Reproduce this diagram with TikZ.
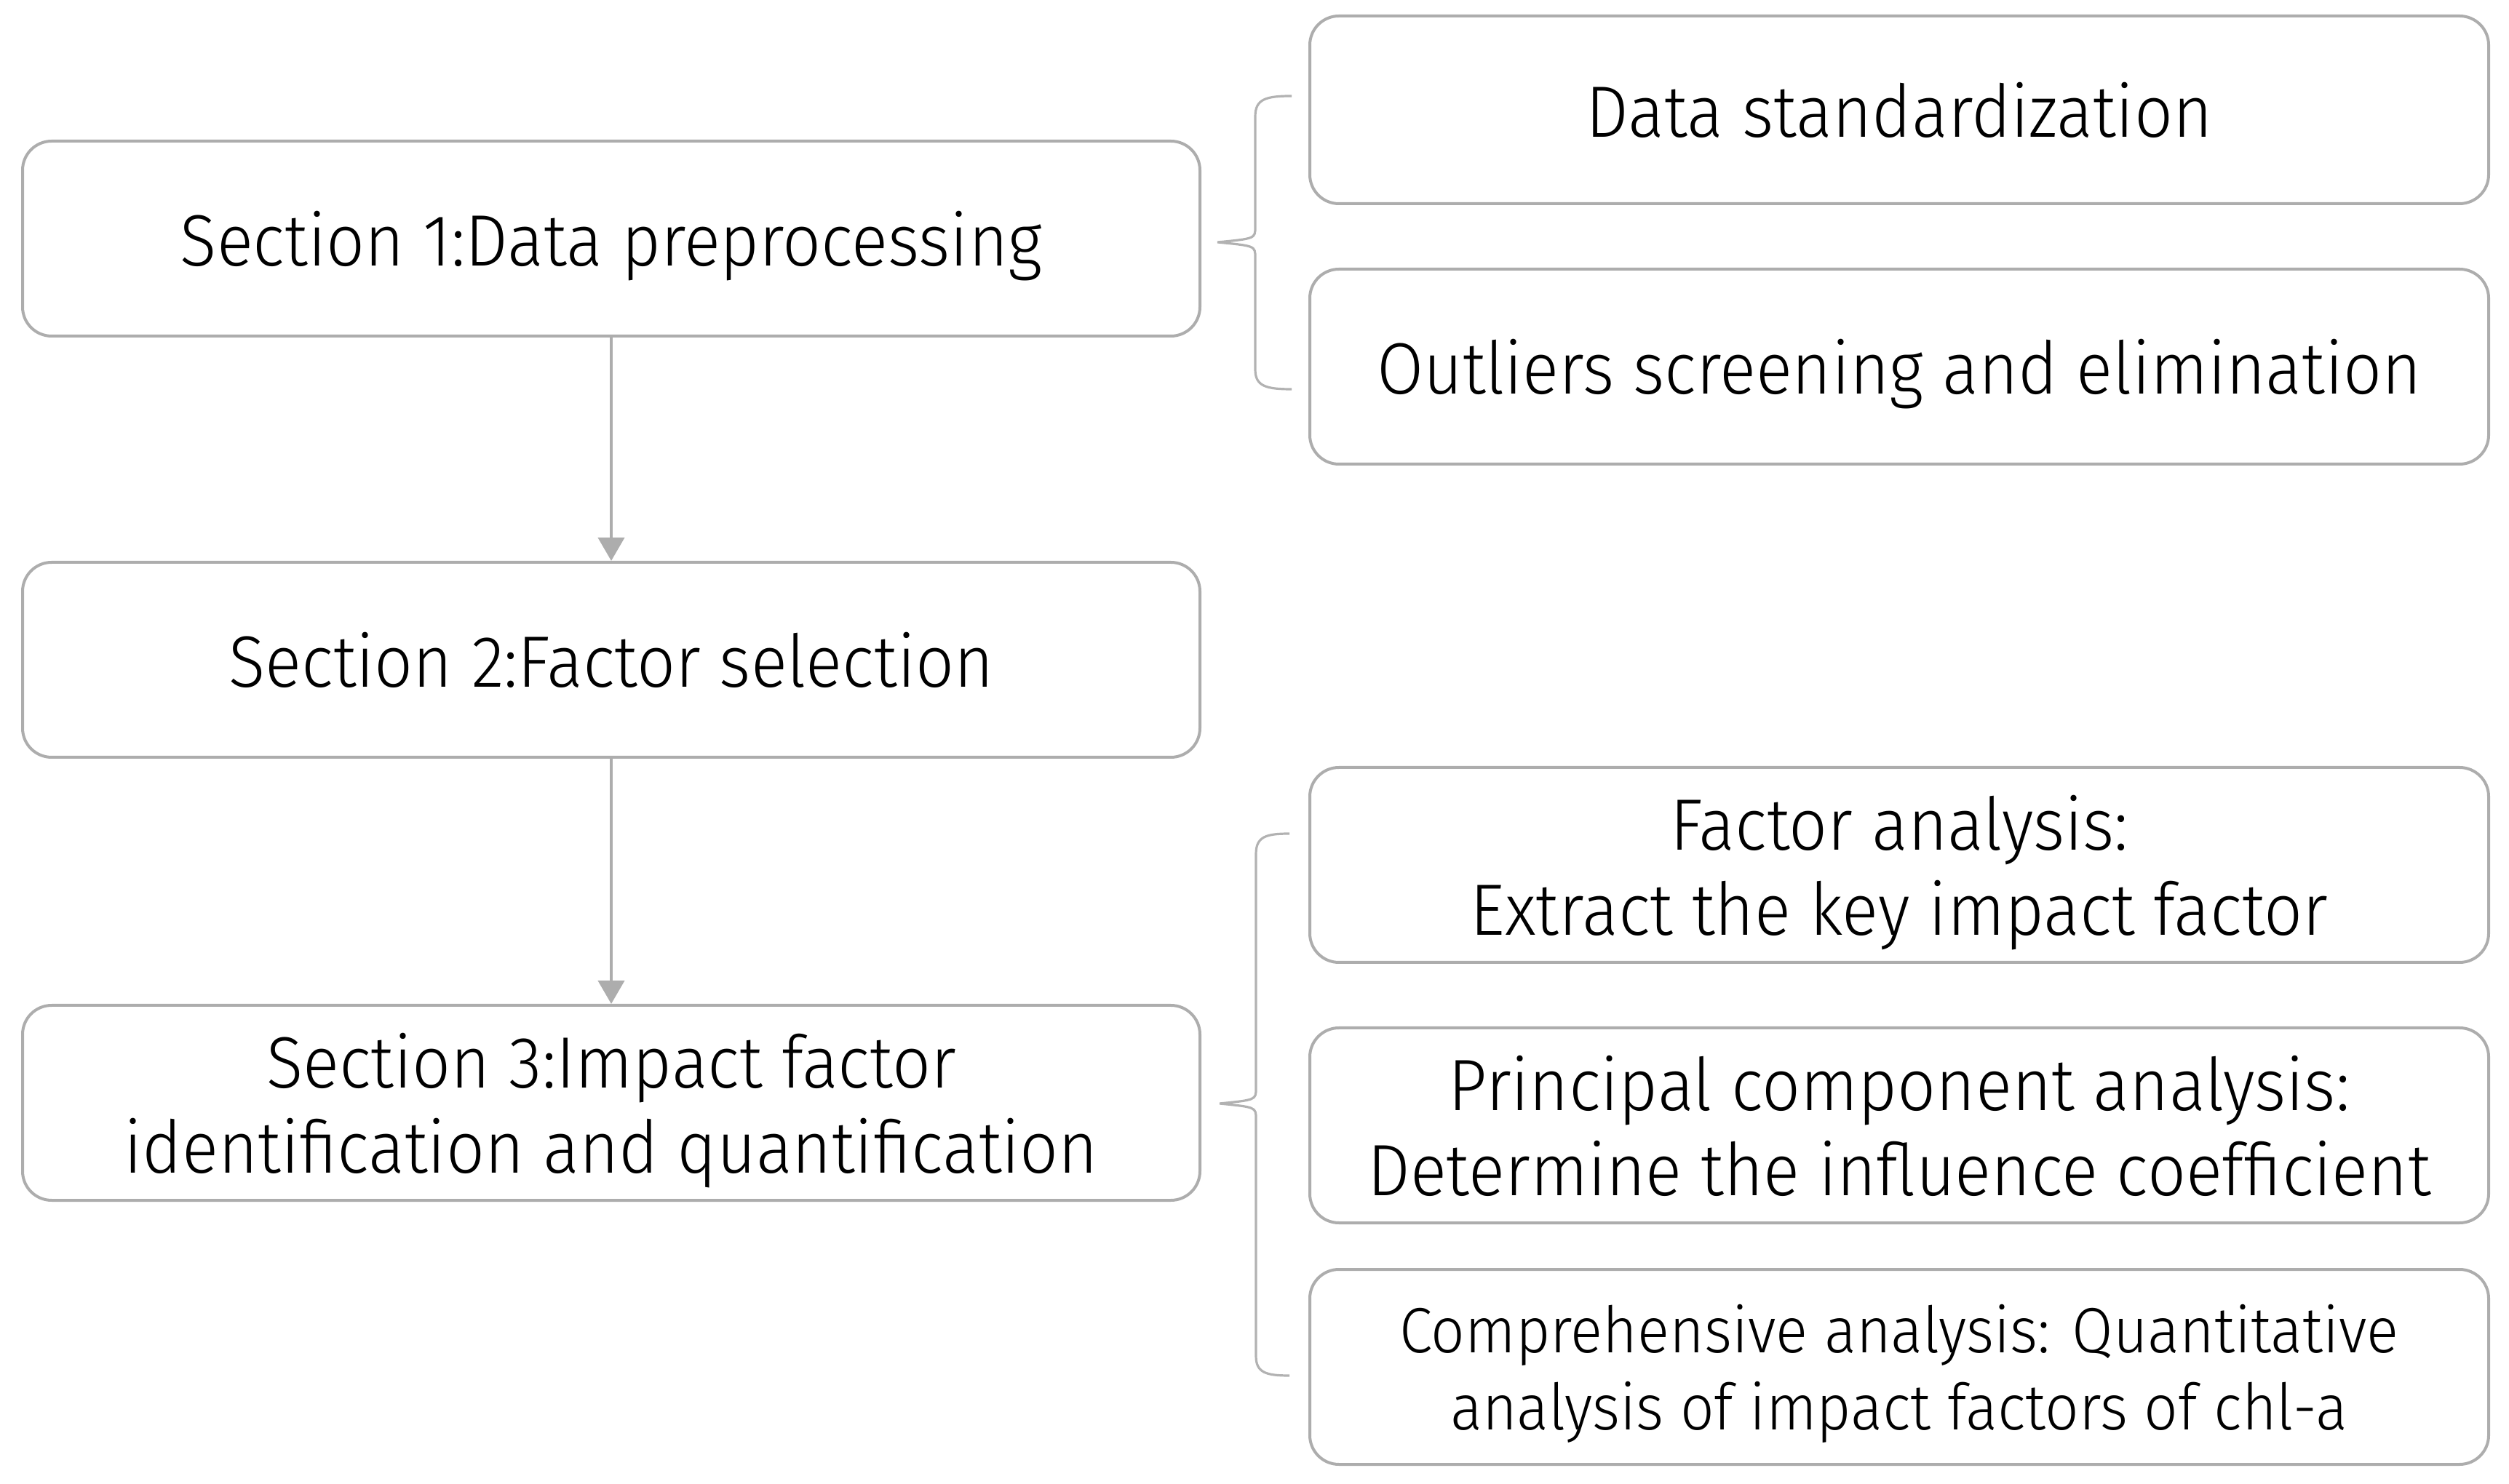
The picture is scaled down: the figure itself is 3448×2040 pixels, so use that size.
\documentclass[tikz,border=0pt]{standalone}
\usepackage{fontspec}
\setmainfont{Fira Sans Light}[FakeStretch=0.93]
\usetikzlibrary{arrows.meta}

\begin{document}
\begin{tikzpicture}[x=0.25pt, y=-0.25pt,
    stepbox/.style={draw=black!32, line width=1pt, rounded corners=10pt,
        minimum width=404.5pt, minimum height=67pt, align=center, inner sep=0pt,
        text depth=0pt, font=\fontsize{25}{29.25}\selectfont},
    subbox/.style={stepbox, minimum width=405pt},
    link/.style={draw=black!32, line width=1pt, -{Triangle[width=9pt,length=8pt]}},
    brkt/.style={draw=black!30, line width=0.8pt}]
\useasboundingbox (0,0) rectangle (3448,2040);
% main steps
\node [stepbox] (sec1) at (840,328) {Section 1:Data preprocessing};
\node [stepbox] (sec2) at (840,907) {Section 2:Factor selection};
\node [stepbox] (sec3) at (840,1516) {Section 3:Impact factor\\identification and quantification};
\draw [link] (sec1) -- (sec2);
\draw [link] (sec2) -- (sec3);
% sub steps
\node [subbox, minimum height=64.5pt] (std) at (2610,151) {Data standardization};
\node [subbox] (outl) at (2610,504) {Outliers screening and elimination};
\node [subbox] (fa) at (2610,1189) {Factor analysis:\\Extract the key impact factor};
\node [subbox] (pca) at (2610,1547) {Principal component analysis:\\Determine the influence coefficient};
\node [subbox, font=\fontsize{22}{26.5}\selectfont] (comp) at (2610,1879) {Comprehensive analysis: Quantitative\\analysis of impact factors of chl-a};
% brackets
\draw [brkt] (1775,132) .. controls (1740,132) and (1725,136) .. (1725,160) -- (1725,312)
    .. controls (1725,328) .. (1673,333) .. controls (1725,338) .. (1725,354) -- (1725,508)
    .. controls (1725,531) and (1740,535) .. (1775,535);
\draw [brkt] (1772,1146) .. controls (1740,1146) and (1726,1150) .. (1726,1174) -- (1726,1496)
    .. controls (1726,1512) .. (1676,1517) .. controls (1726,1522) .. (1726,1538) -- (1726,1864)
    .. controls (1726,1887) and (1740,1891) .. (1772,1891);
\end{tikzpicture}
\end{document}
